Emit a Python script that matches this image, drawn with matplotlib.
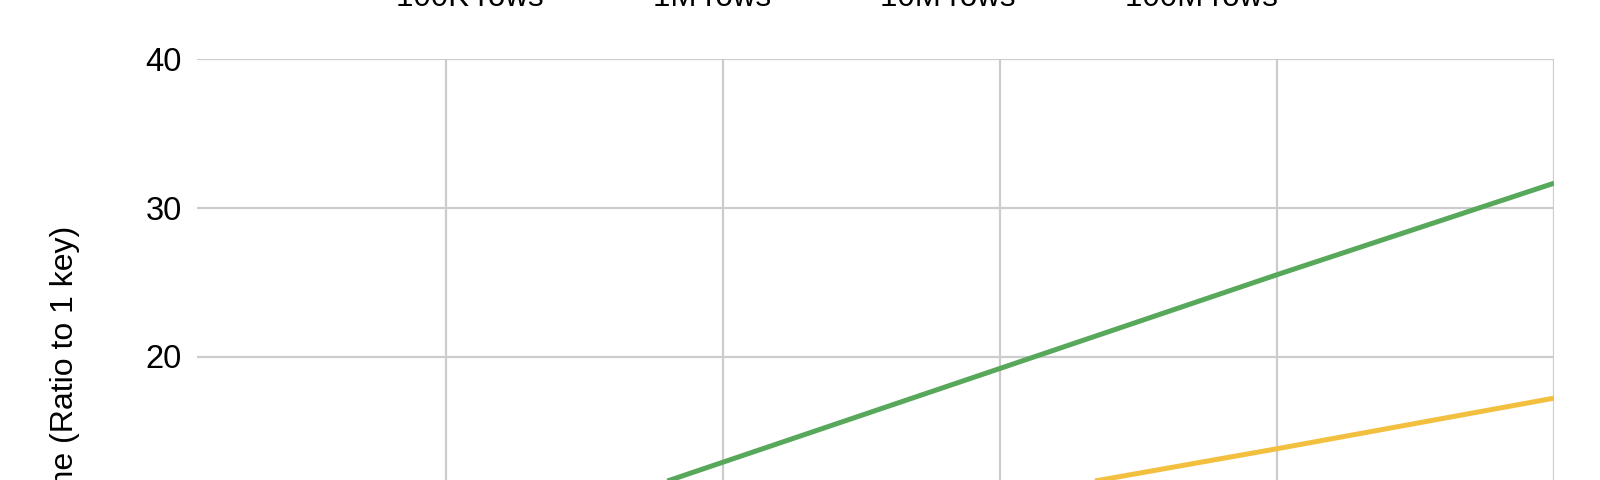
import matplotlib
matplotlib.use("Agg")
import matplotlib.pyplot as plt

plt.rcParams['font.family'] = ['Liberation Sans', 'DejaVu Sans']

# Data
keys = [1, 10, 20, 30, 40, 50]
series_names = ["100K rows", "1M rows", "10M rows", "100M rows"]
rows_100k = [1, 1.6, 2.2, 2.8, 3.4, 4.0]
rows_1m = [1, 2.2, 3.6, 5.0, 6.4, 7.8]
rows_10m = [1, 4.0, 7.3, 10.5, 13.8, 17.2]
rows_100m = [1, 6.6, 12.9, 19.2, 25.5, 31.65]
colors = ["#4a86e8", "#e8574a", "#f2bf3f", "#57a85b"]
y_ticks = [0, 10, 20, 30, 40]
x_ticks = [10, 20, 30, 40, 50]

W, H = 1600, 480
fig = plt.figure(figsize=(16, 4.8), dpi=100)
left, right, top, bottom = 197, 1554, 59, 654
ax = fig.add_axes([left / W, 1 - bottom / H, (right - left) / W, (bottom - top) / H])

for vals, name, c in zip([rows_100k, rows_1m, rows_10m, rows_100m], series_names, colors):
    ax.plot(keys, vals, color=c, lw=3.6, label=name, solid_capstyle='butt')

ax.set_xlim(1, 50)
ax.set_ylim(0, 40)
ax.set_xticks(x_ticks)
ax.set_yticks(y_ticks)
ax.grid(True, color="#cccccc", lw=1.6)
ax.set_axisbelow(True)
for s in ax.spines.values():
    s.set_visible(False)
ax.tick_params(axis='both', length=0, labelsize=23.5, pad=11, colors='#000000')
ax.set_ylabel("Time (Ratio to 1 key)", fontsize=23)
ax.yaxis.set_label_coords((80 - left) / (right - left), 0.4714)

leg = fig.legend(loc='lower left', bbox_to_anchor=(330 / W, 1 - 12.5 / H), ncol=4,
                 frameon=False, fontsize=22.5, handlelength=1.1, handletextpad=1.0,
                 columnspacing=1.4, borderpad=0, borderaxespad=0)

fig.savefig("out.png", dpi=100)
